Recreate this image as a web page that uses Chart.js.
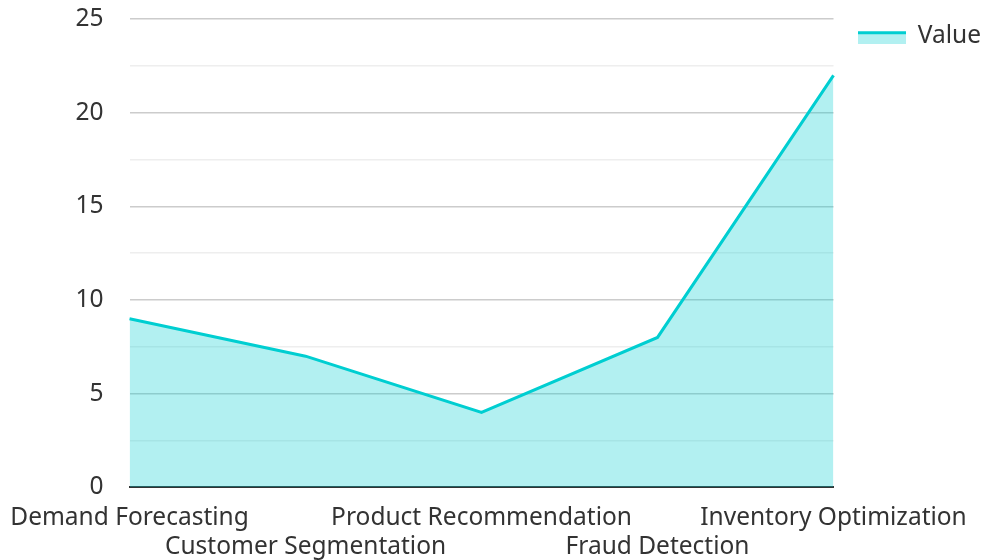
<!DOCTYPE html>
<html>
<head>
<meta charset="utf-8">
<script src="https://cdn.jsdelivr.net/npm/chart.js@4.4.1/dist/chart.umd.min.js"></script>
<style>
  html, body { margin: 0; padding: 0; background: #fff; }
  #wrap { width: 981px; height: 560px; }
</style>
</head>
<body>
<div id="wrap"><canvas id="chart"></canvas></div>
<script>
const categories = ["Demand Forecasting", "Customer Segmentation", "Product Recommendation", "Fraud Detection", "Inventory Optimization"];
const values = [9, 7, 4, 8, 22];
const seriesName = "Value";
const yMax = 25;

const lineColor = "#00ced1";
const fillColor = "rgba(0, 206, 209, 0.3)";

// legend marker: line on top, fill below
const marker = document.createElement("canvas");
marker.width = 48; marker.height = 16;
const mctx = marker.getContext("2d");
mctx.fillStyle = fillColor;
mctx.fillRect(0, 4, 48, 12);
mctx.fillStyle = lineColor;
mctx.fillRect(0, 3, 48, 3);

Chart.defaults.font.family = "'Noto Sans', sans-serif";
Chart.defaults.font.size = 24.5;
Chart.defaults.color = "#333";

new Chart(document.getElementById("chart"), {
  type: "line",
  data: {
    labels: categories,
    datasets: [{
      label: seriesName,
      data: values,
      borderColor: lineColor,
      backgroundColor: fillColor,
      borderWidth: 3,
      fill: "origin",
      pointRadius: 0,
      tension: 0
    }]
  },
  options: {
    responsive: true,
    maintainAspectRatio: false,
    animation: false,
    layout: { padding: { left: 71, right: -10, top: 0, bottom: -10 } },
    plugins: {
      tooltip: { enabled: false },
      legend: {
        position: "right",
        align: "start",
        labels: {
          usePointStyle: true,
          pointStyle: marker,
          pointStyleWidth: 48,
          color: "#333",
          font: { size: 24.5 },
          padding: 24
        }
      }
    },
    scales: {
      x: {
        offset: false,
        grid: { display: false },
        border: { color: "#333", width: 2 },
        ticks: {
          autoSkip: false,
          maxRotation: 0,
          padding: 8,
          callback: function(v, i) {
            const l = this.getLabelForValue(v);
            return i % 2 ? ["", l] : l;
          }
        }
      },
      y: {
        min: 0,
        max: yMax,
        border: { display: false },
        grid: {
          color: ctx => (ctx.tick.value % 5 === 0 ? "#cccccc" : "#eeeeee"),
          lineWidth: 1.5,
          drawTicks: true,
          tickLength: 21.5,
          tickColor: "rgba(0,0,0,0)"
        },
        ticks: {
          stepSize: 2.5,
          padding: 4.5,
          callback: v => (v % 5 === 0 ? v : "")
        }
      }
    }
  }
});
</script>
</body>
</html>
